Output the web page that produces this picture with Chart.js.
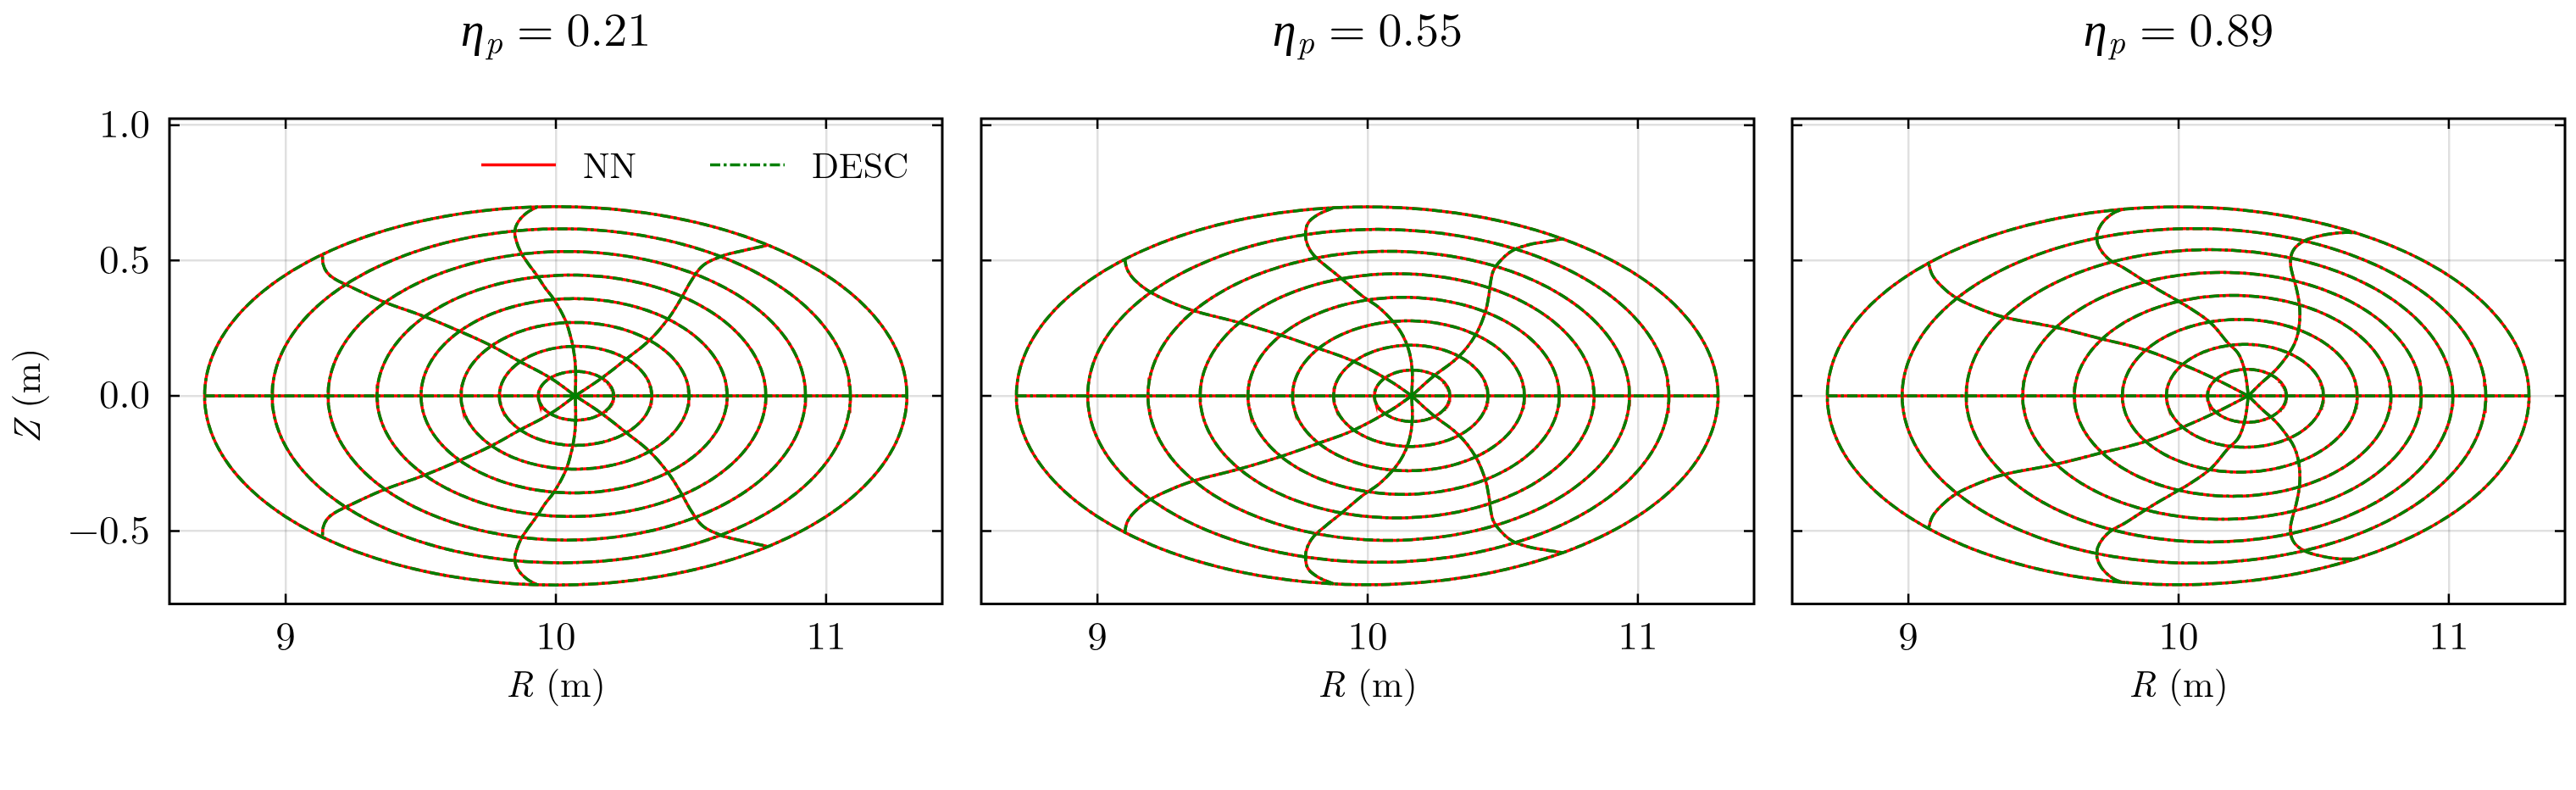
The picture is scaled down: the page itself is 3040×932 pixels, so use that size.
<!DOCTYPE html>
<html>
<head>
<meta charset="utf-8">
<script src="https://cdn.jsdelivr.net/npm/chart.js@4.4.1/dist/chart.umd.min.js"></script>
<style>
  html, body { margin: 0; padding: 0; background: #fff; }
  #fig { position: relative; width: 3040px; height: 932px; overflow: hidden; background: #fff; }
  #fig canvas { position: absolute; top: 0; }
</style>
</head>
<body>
<div id="fig">
  <canvas id="panel0"></canvas>
  <canvas id="panel1"></canvas>
  <canvas id="panel2"></canvas>
</div>
<script>
// eta_p of each panel
const etaP = ['0.21', '0.55', '0.89'];

// tick values
const rTicks = [9, 10, 11];
const zTicks = [-0.5, 0.0, 0.5, 1.0];

// magnetic axis R (m), per panel
const axisR = [10.072, 10.163, 10.258];

// flux surfaces, inner -> outer: crossings of Z=0 and half height (m)
const surfInR = [
  [9.935, 9.791, 9.649, 9.501, 9.338, 9.157, 8.950, 8.700],
  [10.025, 9.874, 9.722, 9.557, 9.380, 9.187, 8.964, 8.700],
  [10.107, 9.955, 9.792, 9.614, 9.423, 9.214, 8.977, 8.700]
];
const surfOutR = [
  [10.214, 10.355, 10.493, 10.634, 10.777, 10.924, 11.090, 11.299],
  [10.304, 10.445, 10.580, 10.709, 10.838, 10.969, 11.115, 11.297],
  [10.399, 10.536, 10.661, 10.786, 10.898, 11.015, 11.137, 11.297]
];
const surfHalfZ = [
  [0.090, 0.183, 0.271, 0.359, 0.446, 0.533, 0.617, 0.699],
  [0.095, 0.187, 0.277, 0.364, 0.451, 0.534, 0.615, 0.698],
  [0.098, 0.190, 0.282, 0.371, 0.456, 0.540, 0.618, 0.698]
];

// constant-theta lines, upper half (lower half is the mirror), [R, Z] from axis to edge
const thetaUpLeft = [
  [[10.072, 0], [9.981, 0.065], [9.866, 0.127], [9.751, 0.190], [9.636, 0.242], [9.511, 0.294],
   [9.359, 0.349], [9.223, 0.411], [9.180, 0.433], [9.153, 0.456], [9.139, 0.485], [9.136, 0.521]],
  [[10.163, 0], [10.084, 0.054], [9.948, 0.127], [9.822, 0.174], [9.676, 0.225], [9.519, 0.272],
   [9.354, 0.315], [9.258, 0.352], [9.188, 0.388], [9.136, 0.430], [9.110, 0.467], [9.101, 0.506]],
  [[10.258, 0], [10.130, 0.065], [10.005, 0.120], [9.870, 0.171], [9.713, 0.211], [9.536, 0.255],
   [9.349, 0.292], [9.241, 0.331], [9.174, 0.364], [9.124, 0.404], [9.089, 0.446], [9.075, 0.488]]
];
const thetaUp = [
  [[10.072, 0], [10.073, 0.096], [10.067, 0.159], [10.054, 0.221], [10.033, 0.284], [9.992, 0.357],
   [9.960, 0.399], [9.929, 0.446], [9.898, 0.488], [9.871, 0.529], [9.854, 0.571], [9.848, 0.608],
   [9.861, 0.644], [9.892, 0.676], [9.929, 0.697]],
  [[10.163, 0], [10.165, 0.091], [10.155, 0.159], [10.131, 0.221], [10.094, 0.274], [10.042, 0.326],
   [9.984, 0.366], [9.932, 0.409], [9.890, 0.444], [9.843, 0.482], [9.801, 0.519], [9.778, 0.556],
   [9.770, 0.597], [9.780, 0.639], [9.817, 0.670], [9.874, 0.695]],
  [[10.258, 0], [10.250, 0.065], [10.238, 0.117], [10.219, 0.159], [10.183, 0.195], [10.120, 0.268],
   [10.047, 0.321], [9.990, 0.355], [9.922, 0.394], [9.864, 0.430], [9.802, 0.470], [9.744, 0.503],
   [9.708, 0.545], [9.697, 0.582], [9.705, 0.618], [9.729, 0.652], [9.765, 0.679], [9.802, 0.691]]
];
const thetaUpRight = [
  [[10.072, 0], [10.169, 0.065], [10.263, 0.138], [10.347, 0.206], [10.415, 0.284], [10.462, 0.357],
   [10.504, 0.430], [10.545, 0.482], [10.608, 0.514], [10.639, 0.524], [10.709, 0.540], [10.781, 0.556]],
  [[10.163, 0], [10.241, 0.070], [10.335, 0.143], [10.397, 0.221], [10.434, 0.305], [10.448, 0.368],
   [10.455, 0.420], [10.465, 0.462], [10.486, 0.493], [10.533, 0.535], [10.596, 0.558], [10.649, 0.568],
   [10.723, 0.580]],
  [[10.258, 0], [10.308, 0.049], [10.360, 0.096], [10.402, 0.148], [10.428, 0.190], [10.444, 0.242],
   [10.449, 0.305], [10.444, 0.357], [10.433, 0.409], [10.421, 0.451], [10.414, 0.493], [10.423, 0.535],
   [10.454, 0.566], [10.506, 0.587], [10.590, 0.602], [10.653, 0.603]]
];

const SERIF = "'Latin Modern Roman', 'Liberation Serif', serif";
const NN_COLOR = '#ff0000';
const DESC_COLOR = '#008000';
const DESC_DASH = [12, 4, 3.5, 4];
const LINE_W = 3.5;
const TICK_LEN = 12;

// panel geometry in the 3040x932 figure
const panelLeft = [200, 1158, 2115];
const panelWidth = 912;
const canvasW = 1125;
const canvasH = 932;
const areaTop = 140;
const areaBottom = 712.5;

Chart.defaults.font.family = SERIF;
Chart.defaults.color = '#000';

function fmtZ(v) {
  const s = Math.abs(v).toFixed(1);
  return v < 0 ? '\u2212' + s : s;
}

function buildCurves(k) {
  const curves = [];
  // flux surfaces: ellipses through the read crossings and half heights
  for (let i = 0; i < surfInR[k].length; i++) {
    const c = (surfInR[k][i] + surfOutR[k][i]) / 2;
    const a = (surfOutR[k][i] - surfInR[k][i]) / 2;
    const b = surfHalfZ[k][i];
    const pts = [];
    for (let j = 0; j <= 200; j++) {
      const t = (j / 200) * 2 * Math.PI;
      pts.push({ x: c + a * Math.cos(t), y: b * Math.sin(t) });
    }
    curves.push({ pts, tension: 0 });
  }
  const last = surfInR[k].length - 1;
  curves.push({ pts: [{ x: surfInR[k][last], y: 0 }, { x: surfOutR[k][last], y: 0 }], tension: 0 });
  [thetaUpLeft, thetaUp, thetaUpRight].forEach((set) => {
    const up = set[k].map(([r, z]) => ({ x: r, y: z }));
    curves.push({ pts: up, tension: 0.4 });
    curves.push({ pts: up.map((p) => ({ x: p.x, y: -p.y })), tension: 0.4 });
  });
  return curves;
}

function buildDatasets(k) {
  const ds = [];
  buildCurves(k).forEach((cv) => {
    ds.push({
      label: 'NN', data: cv.pts, showLine: true, order: 1,
      borderColor: NN_COLOR, borderWidth: LINE_W, tension: cv.tension,
      pointRadius: 0, pointHoverRadius: 0, fill: false
    });
    ds.push({
      label: 'DESC', data: cv.pts.map((p) => ({ x: p.x, y: p.y })), showLine: true, order: 0,
      borderColor: DESC_COLOR, borderWidth: LINE_W, borderDash: DESC_DASH, tension: cv.tension,
      pointRadius: 0, pointHoverRadius: 0, fill: false
    });
  });
  return ds;
}

// draws runs of text; gap is extra space placed before a run
function drawRuns(ctx, runs, cx, base) {
  let w = 0;
  runs.forEach((r) => { ctx.font = r.font; w += ctx.measureText(r.text).width + (r.gap || 0); });
  let x = cx - w / 2;
  runs.forEach((r) => {
    ctx.font = r.font;
    x += r.gap || 0;
    ctx.fillText(r.text, x, base + (r.dy || 0));
    x += ctx.measureText(r.text).width;
  });
}

const figureDecor = {
  id: 'figureDecor',
  afterDatasetsDraw(chart) {
    const { ctx, chartArea: a, scales } = chart;
    ctx.save();
    ctx.strokeStyle = '#000';
    ctx.lineWidth = 2.5;
    ctx.setLineDash([]);
    ctx.beginPath();
    scales.x.ticks.forEach((t) => {
      const px = scales.x.getPixelForValue(t.value);
      ctx.moveTo(px, a.bottom); ctx.lineTo(px, a.bottom - TICK_LEN);
      ctx.moveTo(px, a.top); ctx.lineTo(px, a.top + TICK_LEN);
    });
    scales.y.ticks.forEach((t) => {
      const py = scales.y.getPixelForValue(t.value);
      ctx.moveTo(a.left, py); ctx.lineTo(a.left + TICK_LEN, py);
      ctx.moveTo(a.right, py); ctx.lineTo(a.right - TICK_LEN, py);
    });
    ctx.stroke();
    ctx.lineWidth = 3;
    ctx.strokeRect(a.left, a.top, a.right - a.left, a.bottom - a.top);
    ctx.restore();
  },
  afterDraw(chart, args, opts) {
    const { ctx, chartArea: a } = chart;
    const k = opts.panel;
    const cx = (a.left + a.right) / 2;
    ctx.save();
    ctx.fillStyle = '#000';
    ctx.textAlign = 'left';
    ctx.textBaseline = 'alphabetic';

    // panel title
    drawRuns(ctx, [
      { text: '\u03b7', font: 'italic 56px ' + SERIF },
      { text: 'p', font: 'italic 40px ' + SERIF, dy: 9, gap: 1 },
      { text: '=', font: '56px ' + SERIF, gap: 17 },
      { text: etaP[k], font: '56px ' + SERIF, gap: 15 }
    ], cx, 54);

    // x axis label
    drawRuns(ctx, [
      { text: 'R', font: 'italic 44px ' + SERIF },
      { text: ' (m)', font: '44px ' + SERIF }
    ], cx, 822);

    if (k === 0) {
      // y axis label
      ctx.save();
      ctx.translate(47, 467);
      ctx.rotate(-Math.PI / 2);
      drawRuns(ctx, [
        { text: 'Z', font: 'italic 44px ' + SERIF },
        { text: ' (m)', font: '44px ' + SERIF }
      ], 0, 0);
      ctx.restore();

      // legend
      const ly = a.top + 54.5;
      ctx.lineWidth = LINE_W;
      ctx.strokeStyle = NN_COLOR;
      ctx.setLineDash([]);
      ctx.beginPath(); ctx.moveTo(a.right - 544, ly); ctx.lineTo(a.right - 456, ly); ctx.stroke();
      ctx.strokeStyle = DESC_COLOR;
      ctx.setLineDash(DESC_DASH);
      ctx.beginPath(); ctx.moveTo(a.right - 274, ly); ctx.lineTo(a.right - 186, ly); ctx.stroke();
      ctx.setLineDash([]);
      ctx.font = '42px ' + SERIF;
      ctx.fillText('NN', a.right - 424, a.top + 70);
      ctx.fillText('DESC', a.right - 154, a.top + 70);
    }
    ctx.restore();
  }
};

function makePanel(k) {
  const canvas = document.getElementById('panel' + k);
  const left = panelLeft[k] - 200;
  canvas.width = canvasW;
  canvas.height = canvasH;
  canvas.style.left = left + 'px';
  canvas.style.width = canvasW + 'px';
  canvas.style.height = canvasH + 'px';

  const gridStyle = { color: 'rgba(0,0,0,0.12)', lineWidth: 2.5, drawTicks: false };

  new Chart(canvas.getContext('2d'), {
    type: 'scatter',
    data: { datasets: buildDatasets(k) },
    options: {
      responsive: false,
      animation: false,
      events: [],
      devicePixelRatio: 1,
      layout: {
        padding: { left: 0, right: canvasW - 200 - panelWidth, top: areaTop, bottom: 0 }
      },
      plugins: {
        legend: { display: false },
        tooltip: { enabled: false },
        figureDecor: { panel: k }
      },
      scales: {
        x: {
          type: 'linear',
          min: 8.57,
          max: 11.43,
          afterBuildTicks: (scale) => { scale.ticks = rTicks.map((v) => ({ value: v })); },
          afterFit: (scale) => { scale.height = canvasH - areaBottom; },
          ticks: {
            padding: 11,
            font: { size: 47 },
            color: '#000',
            maxRotation: 0,
            callback: (v) => String(v)
          },
          grid: gridStyle,
          border: { display: false }
        },
        y: {
          type: 'linear',
          min: -0.769,
          max: 1.024,
          afterBuildTicks: (scale) => { scale.ticks = zTicks.map((v) => ({ value: v })); },
          afterFit: (scale) => { scale.width = 200; },
          ticks: {
            display: k === 0,
            padding: 23,
            font: { size: 47 },
            color: '#000',
            callback: (v) => fmtZ(v)
          },
          grid: gridStyle,
          border: { display: false }
        }
      }
    },
    plugins: [figureDecor]
  });
}

[0, 1, 2].forEach(makePanel);
</script>
</body>
</html>
